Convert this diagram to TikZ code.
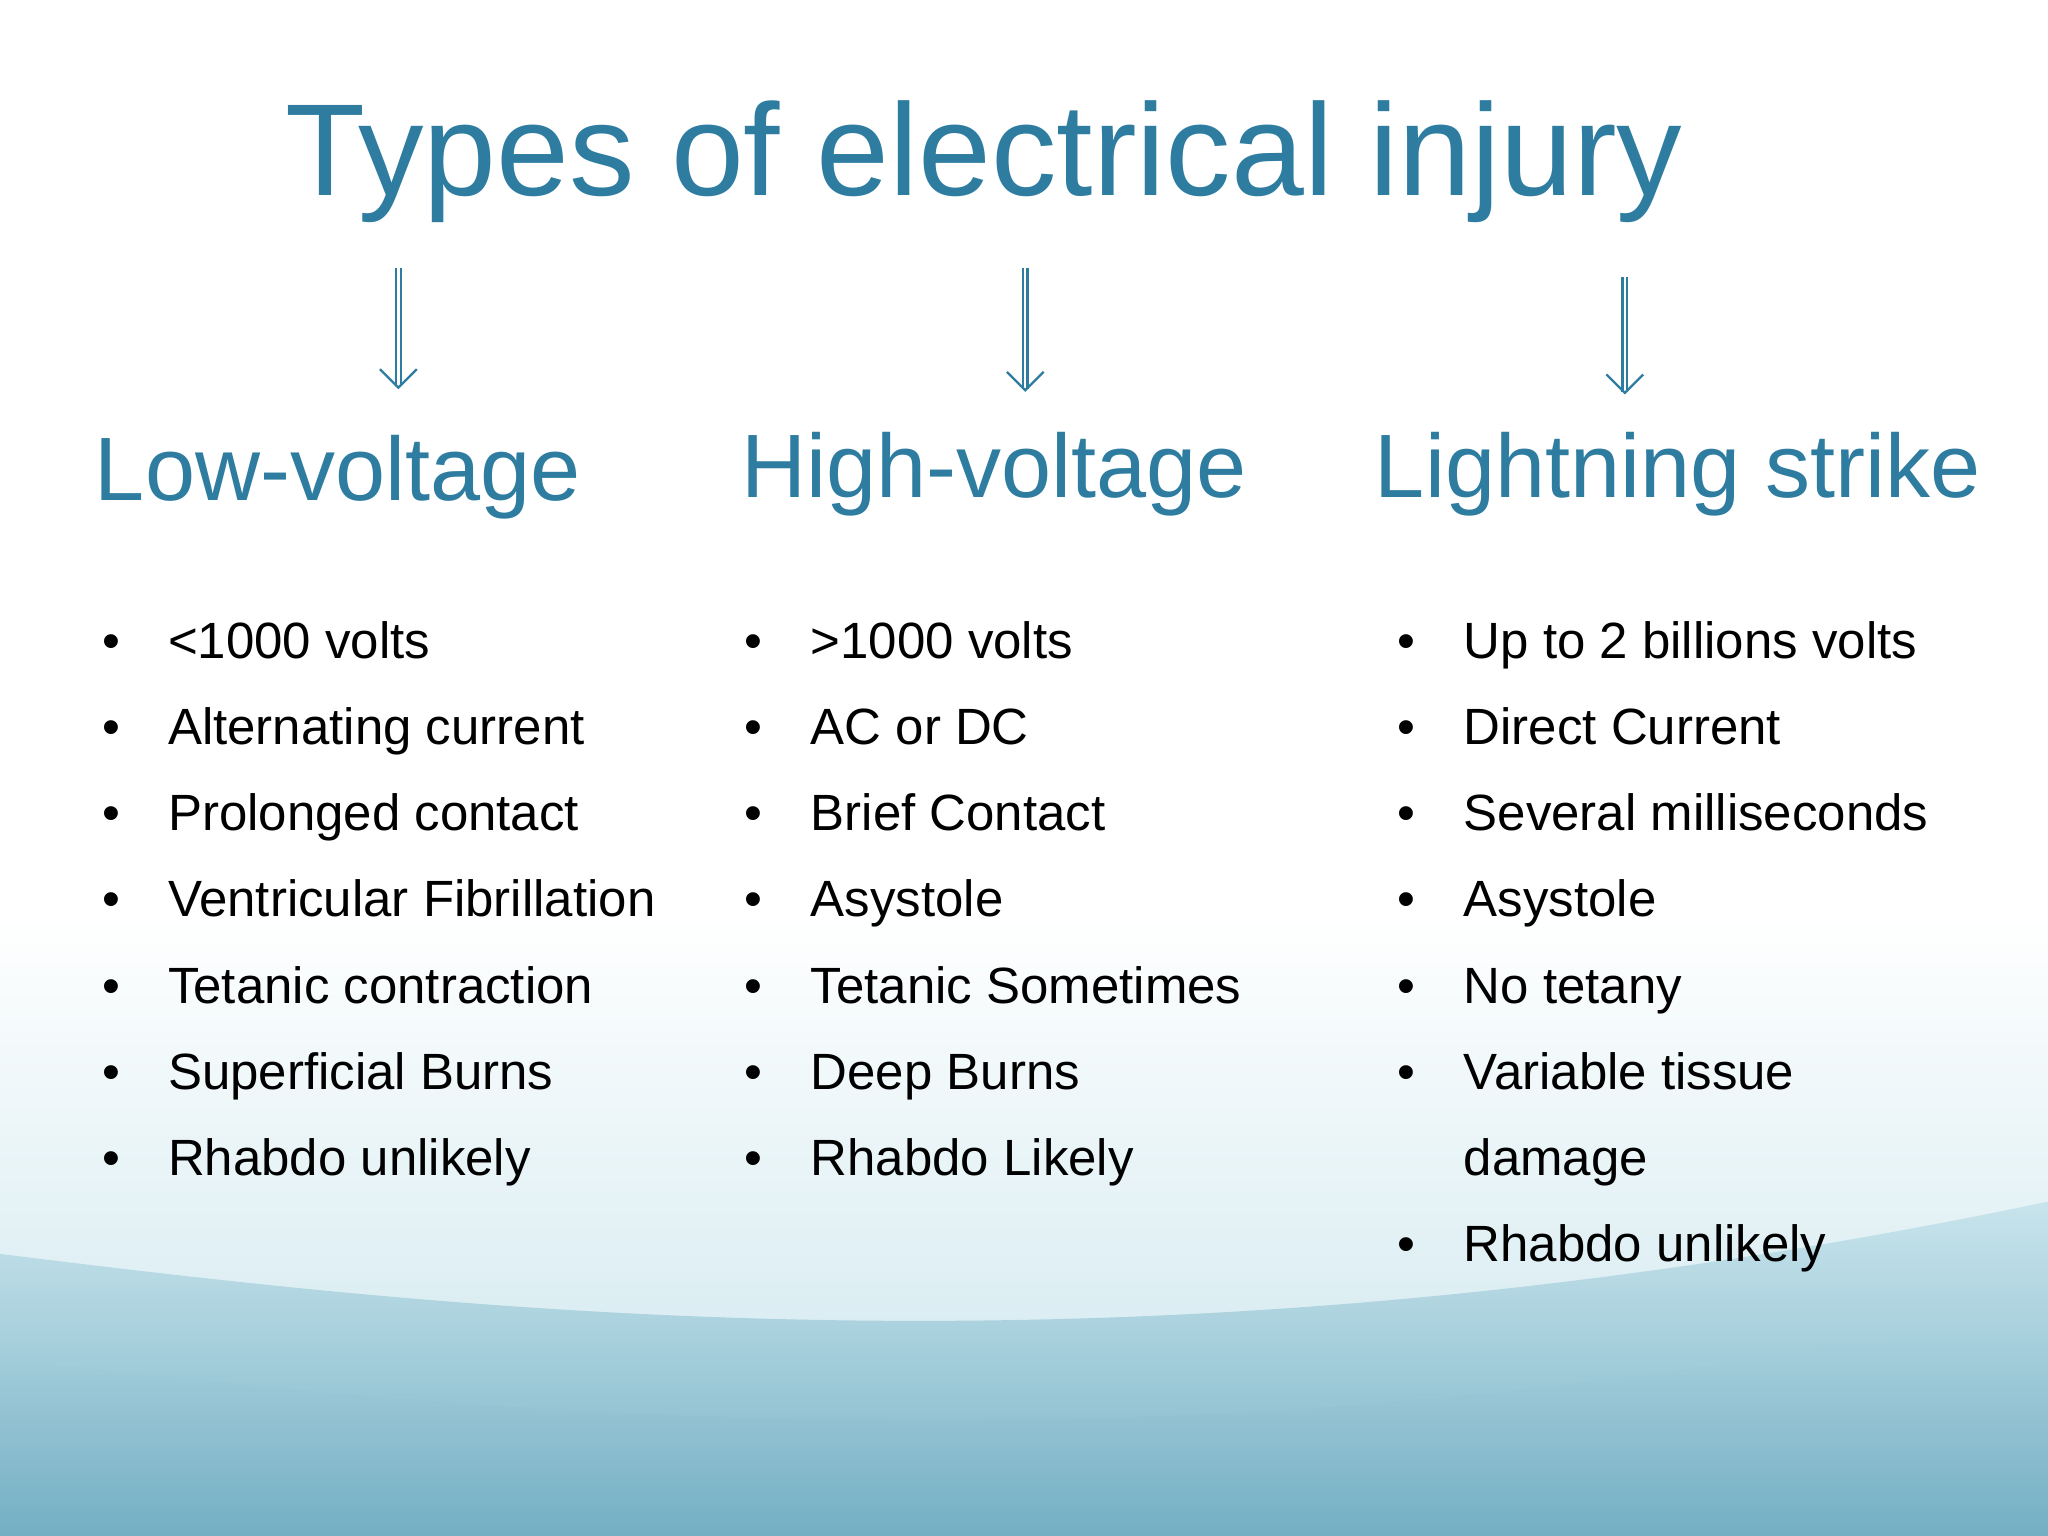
\documentclass[tikz,border=0pt]{standalone}
\usepackage{fontspec}
\setmainfont{Liberation Sans}
\usetikzlibrary{arrows.meta}
\definecolor{teal1}{RGB}{46,125,160}
\definecolor{sea}{RGB}{120,178,198}
\definecolor{seal}{RGB}{200,228,236}
\begin{document}
\begin{tikzpicture}[x=0.01cm,y=-0.01cm,
  ttl/.style={anchor=base west,text=teal1,font=\fontsize{28.5pt}{30pt}\selectfont,inner sep=0},
  hd/.style={anchor=base west,text=teal1,font=\fontsize{19.6pt}{21pt}\selectfont,inner sep=0},
  it/.style={anchor=base west,font=\fontsize{11.1pt}{13pt}\selectfont,inner sep=0},
  bul/.style={anchor=base,font=\fontsize{11.1pt}{13pt}\selectfont,inner sep=0},
  arr/.style={draw=teal1,line width=0.5pt,double distance=0.5pt,-{Straight Barb[length=4pt,width=8pt]}}]
\useasboundingbox (0,0) rectangle (1568,1176);
\fill[white] (0,0) rectangle (1568,1176);
\shade[top color=white,bottom color=seal] (0,700) rectangle (1568,1176);
\shade[top color=seal,bottom color=sea] (0,960) .. controls (400,1010) and (900,1060) .. (1568,920) -- (1568,1176) -- (0,1176) -- cycle;
\shade[top color=seal!70!sea,bottom color=sea!90!teal1,opacity=0.6] (0,1040) .. controls (500,1100) and (1000,1120) .. (1568,1000) -- (1568,1176) -- (0,1176) -- cycle;
\node[ttl] (t) at (218,150) {Types of electrical injury};
\node[hd] (h1) at (72,383) {Low-voltage};
\node[hd] (h2) at (567,381) {High-voltage};
\node[hd] (h3) at (1052,381) {Lightning strike};
\coordinate (a1) at (305,205); \coordinate (b1) at (305,298);
\coordinate (a2) at (785,205); \coordinate (b2) at (785,300);
\coordinate (a3) at (1244,212); \coordinate (b3) at (1244,302);
\draw[arr] (a1) -- (b1);
\draw[arr] (a2) -- (b2);
\draw[arr] (a3) -- (b3);
\foreach \t [count=\i] in {<1000 volts,Alternating current,Prolonged contact,Ventricular Fibrillation,Tetanic contraction,Superficial Burns,Rhabdo unlikely}{
  \node[bul] (l\i b) at (85,{492+66*(\i-1)+12}) {•};
  \node[it] (l\i) at (128,{492+66*(\i-1)+12}) {\t};}
\foreach \t [count=\i] in {>1000 volts,AC or DC,Brief Contact,Asystole,Tetanic Sometimes,Deep Burns,Rhabdo Likely}{
  \node[bul] (m\i b) at (577,{492+66*(\i-1)+12}) {•};
  \node[it] (m\i) at (620,{492+66*(\i-1)+12}) {\t};}
\foreach \t [count=\i] in {Up to 2 billions volts,Direct Current,Several milliseconds,Asystole,No tetany,Variable tissue}{
  \node[bul] (r\i b) at (1077,{492+66*(\i-1)+12}) {•};
  \node[it] (r\i) at (1120,{492+66*(\i-1)+12}) {\t};}
\node[it] (r7) at (1120,{888+12}) {damage};
\node[bul] (r8b) at (1077,{954+12}) {•};
\node[it] (r8) at (1120,{954+12}) {Rhabdo unlikely};
\end{tikzpicture}
\end{document}
